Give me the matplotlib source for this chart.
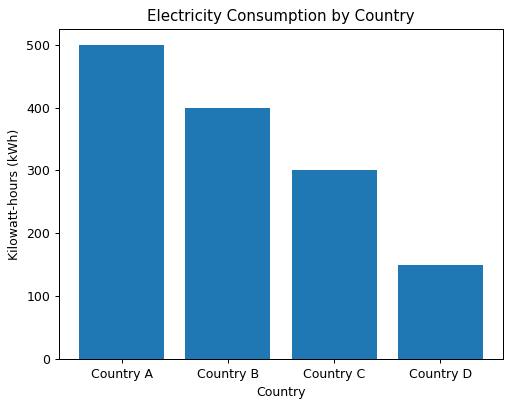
import matplotlib
matplotlib.use("Agg")
import matplotlib.pyplot as plt

countries = ["Country A", "Country B", "Country C", "Country D"]
consumption = [500, 400, 300, 150]

dpi = 90
fig = plt.figure(figsize=(512 / dpi, 407 / dpi), dpi=dpi)
ax = fig.add_axes([59 / 512, 1 - 359 / 407, (503 - 59) / 512, (359 - 29) / 407])

ax.bar(countries, consumption)

ax.set_title("Electricity Consumption by Country")
ax.set_xlabel("Country")
ax.set_ylabel("Kilowatt-hours (kWh)")

fig.savefig("out.png", dpi=dpi)
